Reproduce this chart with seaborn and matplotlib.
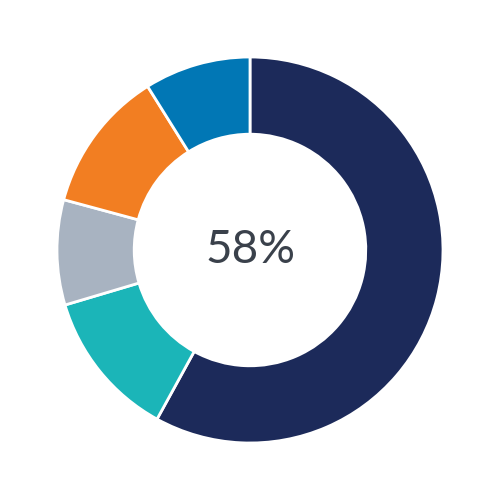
import matplotlib
matplotlib.use("Agg")
import matplotlib.pyplot as plt
import seaborn as sns

# slice data, clockwise from 12 o'clock
labels = ["A", "B", "C", "D", "E"]
shares = [58, 12.4, 8.8, 11.9, 8.9]
center_label = "58%"
colors = ["#1c2a5a", "#1bb5b8", "#a8b3c1", "#f27e22", "#0177b5"]

sns.set_style("white")
plt.rcParams["font.family"] = ["Lato", "DejaVu Sans"]

fig = plt.figure(figsize=(5, 5), dpi=100)
ax = fig.add_axes([0, 0, 1, 1])

ax.pie(shares, colors=colors, startangle=90, counterclock=False,
       radius=1.0,
       wedgeprops={"width": 0.40, "edgecolor": "white", "linewidth": 2})

ax.text(0, 0, center_label, ha="center", va="center",
        fontsize=33, color="#3a414b")

lim = 250 / 193
ax.set_xlim(-lim, lim)
ax.set_ylim(-lim, lim)
ax.set_aspect("equal")
ax.axis("off")

plt.savefig("out.png", dpi=100)
